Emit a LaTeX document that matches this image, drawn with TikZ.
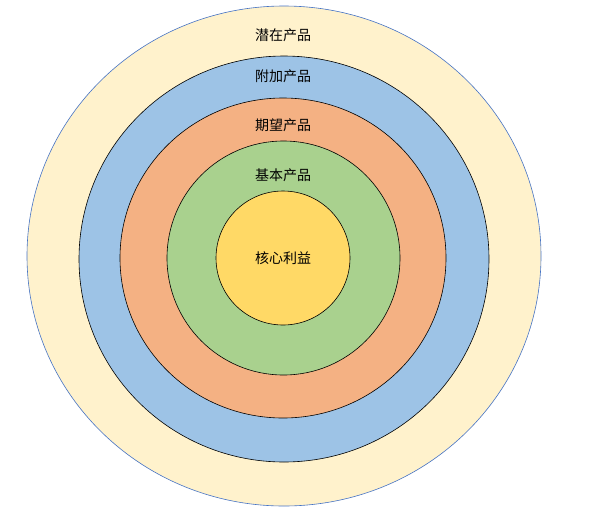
\documentclass[tikz,border=0pt]{standalone}
\usepackage{fontspec}
\setmainfont{Noto Sans CJK SC}
\definecolor{c1}{HTML}{FFF2CC}
\definecolor{c2}{HTML}{9DC3E6}
\definecolor{c3}{HTML}{F4B183}
\definecolor{c4}{HTML}{A9D18E}
\definecolor{c5}{HTML}{FFD966}
\definecolor{ob}{HTML}{4472C4}
\begin{document}
\begin{tikzpicture}[x=1pt,y=-1pt,lab/.style={font=\fontsize{14}{16}\selectfont,text=black}]
\useasboundingbox (0,0) rectangle (600,507);
\draw[ob,fill=c1,line width=0.6pt] (284,256) ellipse [x radius=257,y radius=250];
\draw[black,fill=c2,line width=0.6pt] (284,259) ellipse [x radius=205,y radius=203];
\draw[black,fill=c3,line width=0.6pt] (283,258) ellipse [x radius=163,y radius=160];
\draw[black,fill=c4,line width=0.6pt] (283.5,258) ellipse [x radius=116.5,y radius=117];
\draw[black,fill=c5,line width=0.6pt] (283,258) ellipse [x radius=67,y radius=67];
\node[lab] (a) at (283,35) {潜在产品};
\node[lab] (b) at (283,76) {附加产品};
\node[lab] (c) at (283,125) {期望产品};
\node[lab] (d) at (283,175) {基本产品};
\node[lab] (e) at (283,258) {核心利益};
\end{tikzpicture}
\end{document}
